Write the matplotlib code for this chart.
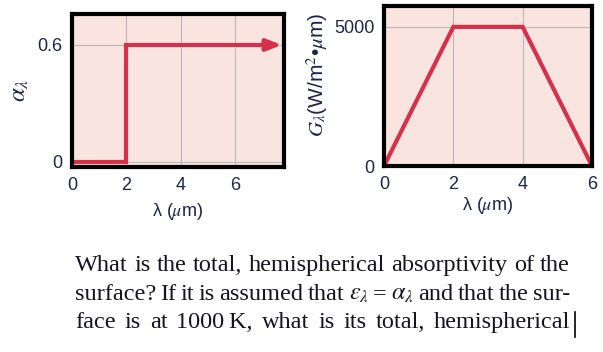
import matplotlib
matplotlib.use("Agg")
import matplotlib.pyplot as plt
from matplotlib.lines import Line2D

# ---- data ----
alpha_x = [0, 2, 2, 7.2]
alpha_y = [0, 0, 0.6, 0.6]
arrow_end_x = 7.72
G_x = [0, 2, 4, 6]
G_y = [0, 5000, 5000, 0]
left_xticks = [0, 2, 4, 6]
left_yticks = [0, 0.6]
left_yticklabels = ["0", "0.6"]
right_xticks = [0, 2, 4, 6]
right_yticks = [0, 5000]
right_yticklabels = ["0", "5000"]
text_lines = [
    ["What", "is", "the", "total,", "hemispherical", "absorptivity", "of", "the"],
    ["surface?", "If", "it", "is", "assumed", "that", r"$\varepsilon_\lambda$", "=",
     r"$\alpha_\lambda$", "and", "that", "the", "sur-"],
    ["face", "is", "at", "1000\u2009K,", "what", "is", "its", "total,", "hemispherical"],
]

RED = "#D6304A"
BG = "#F9E4DF"
NAVY = "#1C2646"
GRID = "#B9B9BC"

plt.rcParams["mathtext.fontset"] = "stix"
plt.rcParams["font.family"] = ["Liberation Sans", "DejaVu Sans"]

W, H = 603, 352
fig = plt.figure(figsize=(W / 100, H / 100), dpi=100)


def ax_rect(l, r, t, b):
    return [l / W, 1 - b / H, (r - l) / W, (b - t) / H]


def style(ax):
    ax.set_facecolor(BG)
    for s in ax.spines.values():
        s.set_linewidth(3.0)
        s.set_color("black")
        s.set_zorder(5)
    ax.tick_params(length=0, pad=7, labelsize=13, labelcolor=NAVY)
    ax.grid(True, color=GRID, lw=0.8)
    ax.set_axisbelow(True)


# ---- left panel ----
ax1 = fig.add_axes(ax_rect(72, 284, 14, 167))
style(ax1)
ax1.set_xlim(0, 7.8)
ax1.set_ylim(-0.026, 0.759)
ax1.set_xticks(left_xticks)
ax1.set_yticks(left_yticks)
ax1.set_yticklabels(left_yticklabels)
ax1.plot(alpha_x, alpha_y, color=RED, lw=3, solid_joinstyle="miter",
         solid_capstyle="butt", clip_on=False, zorder=3)
ax1.annotate("", xy=(arrow_end_x, alpha_y[-1]), xytext=(alpha_x[-1] - 0.05, alpha_y[-1]),
             arrowprops=dict(arrowstyle="-|>,head_length=0.9,head_width=0.35",
                             color=RED, lw=3, shrinkA=0, shrinkB=0), zorder=3)
ax1.set_xlabel(r"λ ($\mu$m)", fontsize=13, color=NAVY)
ax1.xaxis.label.set_va("center")
ax1.xaxis.set_label_coords(0.5, -0.29)
ax1.set_ylabel(r"$\alpha_\lambda$", fontsize=18, color=NAVY)
ax1.yaxis.label.set_va("center")
ax1.yaxis.set_label_coords(-0.25, 0.5)

# ---- right panel ----
ax2 = fig.add_axes(ax_rect(384, 592, 6, 166))
style(ax2)
ax2.set_xlim(0, 6)
ax2.set_ylim(0, 5750)
ax2.set_xticks(right_xticks)
ax2.set_yticks(right_yticks)
ax2.set_yticklabels(right_yticklabels)
ax2.plot(G_x, G_y, color=RED, lw=3, solid_joinstyle="miter", clip_on=True, zorder=3)
ax2.set_xlabel(r"λ ($\mu$m)", fontsize=13, color=NAVY)
ax2.xaxis.label.set_va("center")
ax2.xaxis.set_label_coords(0.5, -0.245)
ax2.set_ylabel(r"$G_\lambda$(W/m$^2$•$\mu$m)", fontsize=15, color=NAVY)
ax2.yaxis.label.set_va("center")
ax2.yaxis.set_label_coords(-0.32, 0.57)

# ---- justified paragraph ----
renderer = fig.canvas.get_renderer()
SERIF = ["Liberation Serif", "DejaVu Serif"]
TXT = "#141420"


def measure(s, size):
    t = fig.text(0, 0, s, fontsize=size, family=SERIF)
    w = t.get_window_extent(renderer).width
    t.remove()
    return w


x_left, x_right = 75, 570
avail = x_right - x_left
base = 17.0
space = measure("a a", base) - measure("aa", base)
scale = 10
for words in text_lines:
    tot = sum(measure(w, base) for w in words) + (len(words) - 1) * space * 0.65
    scale = min(scale, avail / tot)
size = min(17.5, base * scale)
baselines = [271, 300, 328]
for words, by in zip(text_lines, baselines):
    ws = [measure(w, size) for w in words]
    gap = (avail - sum(ws)) / (len(words) - 1)
    x = x_left
    for w, wd in zip(words, ws):
        fig.text(x / W, 1 - by / H, w, fontsize=size, family=SERIF, color=TXT,
                 va="baseline", ha="left")
        x += wd + gap

fig.add_artist(Line2D([575 / W, 575 / W], [1 - 337 / H, 1 - 312 / H],
                      transform=fig.transFigure, color="black", lw=1.2))

fig.savefig("out.png", dpi=100)
